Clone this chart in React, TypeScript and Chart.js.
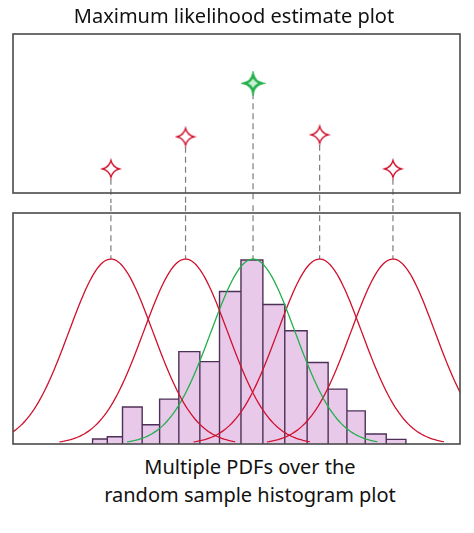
import { useEffect, useRef } from "react";
import { Chart, ChartConfiguration, Plugin, registerables } from "chart.js";

Chart.register(...registerables);

// candidate means tried for the normal model, and the likelihood each one gets
const candidateMeans = [21.9, 38.6, 53.7, 68.6, 85.0];
const likelihoods = [0.152, 0.354, 0.69, 0.366, 0.152];
const bestIndex = 2;
const pdfSigma = 9.4;

// random sample histogram (density per bin)
const binEdges = [17.8, 21.1, 24.5, 28.9, 32.8, 37.1, 41.8, 46.2, 51.0, 55.9, 60.8, 65.8, 70.5, 74.7, 78.8, 83.5, 87.9];
const binDensity = [0.00115, 0.00166, 0.0085, 0.0044, 0.0103, 0.0212, 0.0189, 0.035, 0.0422, 0.032, 0.026, 0.0187, 0.0126, 0.0076, 0.0023, 0.00106];

const RED = "#d0102c";
const GREEN = "#22b04a";
const DASH = "#7c7c7c";

const normalPdf = (x: number, mu: number, s: number) =>
  Math.exp(-((x - mu) ** 2) / (2 * s * s)) / (s * Math.sqrt(2 * Math.PI));

const curvePoints = (mu: number) => {
  const pts: { x: number; y: number }[] = [];
  for (let x = mu - 3 * pdfSigma; x <= mu + 3 * pdfSigma + 1e-9; x += 0.5) {
    pts.push({ x, y: normalPdf(x, mu, pdfSigma) });
  }
  return pts;
};

const histogramPath = () => {
  const pts = [{ x: binEdges[0], y: 0 }];
  binDensity.forEach((h, i) => {
    pts.push({ x: binEdges[i], y: h }, { x: binEdges[i + 1], y: h }, { x: binEdges[i + 1], y: 0 });
  });
  return pts;
};

const makeStar = (r: number, stroke: string, fill: string, lw: number) => {
  const size = Math.ceil(2 * r + lw * 2 + 2);
  const c = document.createElement("canvas");
  c.width = size;
  c.height = size;
  const g = c.getContext("2d")!;
  const m = size / 2;
  const k = r * 0.2;
  g.beginPath();
  g.moveTo(m, m - r);
  g.quadraticCurveTo(m + k, m - k, m + r, m);
  g.quadraticCurveTo(m + k, m + k, m, m + r);
  g.quadraticCurveTo(m - k, m + k, m - r, m);
  g.quadraticCurveTo(m - k, m - k, m, m - r);
  g.closePath();
  g.fillStyle = fill;
  g.fill();
  g.lineWidth = lw;
  g.strokeStyle = stroke;
  g.stroke();
  return c;
};

const framePlugin: Plugin = {
  id: "frame",
  afterDatasetsDraw(chart) {
    const { ctx, chartArea: a } = chart;
    ctx.save();
    ctx.strokeStyle = "#4a4a4a";
    ctx.lineWidth = 1.6;
    ctx.strokeRect(a.left, a.top, a.right - a.left, a.bottom - a.top);
    ctx.restore();
  },
};

const hiddenScales = (yMax: number) => ({
  x: { type: "linear" as const, min: 0, max: 100, display: false },
  y: { type: "linear" as const, min: 0, max: yMax, display: false },
});

export default function App() {
  const topRef = useRef<HTMLCanvasElement | null>(null);
  const bottomRef = useRef<HTMLCanvasElement | null>(null);

  useEffect(() => {
    if (!topRef.current || !bottomRef.current) return;

    const redStar = makeStar(8.5, RED, "#ffffff", 1.3);
    const greenStar = makeStar(8.5, GREEN, "#c9f0d3", 2.6);

    const topConfig: ChartConfiguration<"line"> = {
      type: "line",
      data: {
        datasets: [
          {
            data: candidateMeans.map((m, i) => ({ x: m, y: likelihoods[i] })),
            showLine: false,
            pointStyle: (ctx: any) => (ctx.dataIndex === bestIndex ? greenStar : redStar),
            pointRadius: 9,
          } as any,
          ...candidateMeans.map((m, i) => ({
            data: [
              { x: m, y: likelihoods[i] },
              { x: m, y: -0.3 },
            ],
            borderColor: DASH,
            borderWidth: 1.2,
            borderDash: [6, 4],
            pointRadius: 0,
            clip: false as const,
          })),
        ],
      },
      options: {
        responsive: false,
        animation: false,
        layout: { padding: { left: 13, right: 14, top: 34, bottom: 9 } },
        scales: hiddenScales(1),
        plugins: { legend: { display: false }, tooltip: { enabled: false } },
      },
      plugins: [framePlugin],
    };

    const yMax = 0.053;
    const bottomConfig: ChartConfiguration<"line"> = {
      type: "line",
      data: {
        datasets: [
          ...candidateMeans.map((m, i) => ({
            data: curvePoints(m),
            borderColor: i === bestIndex ? GREEN : RED,
            borderWidth: 1.3,
            pointRadius: 0,
            tension: 0,
          })),
          ...candidateMeans.map((m) => ({
            data: [
              { x: m, y: 0.08 },
              { x: m, y: normalPdf(m, m, pdfSigma) },
            ],
            borderColor: DASH,
            borderWidth: 1.2,
            borderDash: [6, 4],
            pointRadius: 0,
            clip: false as const,
          })),
          {
            data: histogramPath(),
            borderColor: "#4d3057",
            borderWidth: 1.4,
            backgroundColor: "#e8c9ea",
            fill: "origin",
            pointRadius: 0,
            tension: 0,
          },
        ],
      },
      options: {
        responsive: false,
        animation: false,
        layout: { padding: { left: 13, right: 14, top: 10, bottom: 9 } },
        scales: hiddenScales(yMax),
        plugins: { legend: { display: false }, tooltip: { enabled: false } },
      },
      plugins: [framePlugin],
    };

    const top = new Chart(topRef.current, topConfig);
    const bottom = new Chart(bottomRef.current, bottomConfig);
    return () => {
      top.destroy();
      bottom.destroy();
    };
  }, []);

  const textStyle = {
    position: "absolute" as const,
    fontFamily: "'Noto Sans', sans-serif",
    fontSize: 20,
    lineHeight: "28px",
    color: "#111",
    textAlign: "center" as const,
    whiteSpace: "nowrap" as const,
  };

  return (
    <div style={{ position: "absolute", left: 0, top: 0, width: 474, height: 533, background: "#fff", overflow: "hidden" }}>
      <canvas ref={topRef} width={474} height={203} style={{ position: "absolute", left: 0, top: 0 }} />
      <canvas ref={bottomRef} width={474} height={250} style={{ position: "absolute", left: 0, top: 203 }} />
      <div style={{ ...textStyle, left: 0, width: 468, top: 2 }}>Maximum likelihood estimate plot</div>
      <div style={{ ...textStyle, left: 0, width: 500, top: 453 }}>
        Multiple PDFs over the
        <br />
        random sample histogram plot
      </div>
    </div>
  );
}
